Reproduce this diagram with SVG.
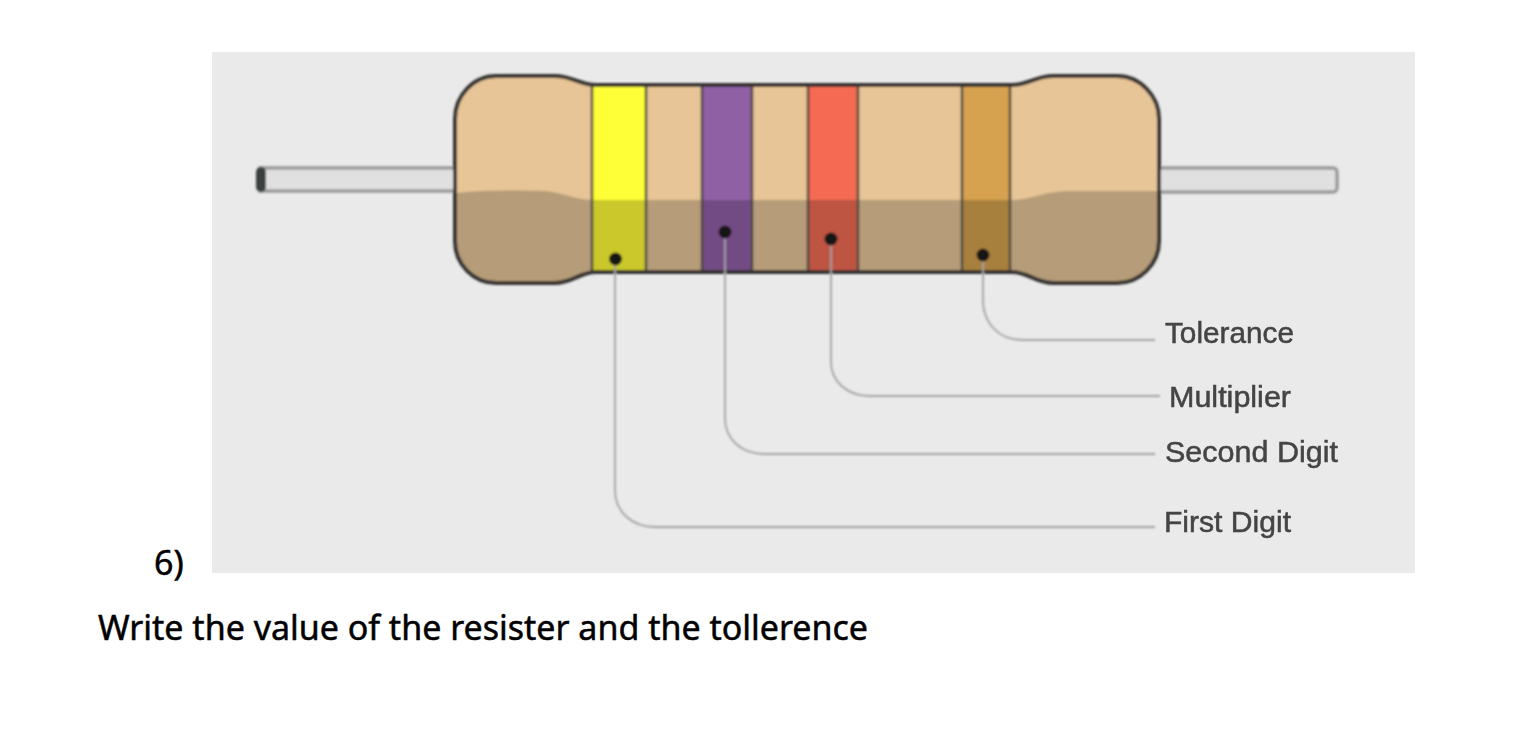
<svg xmlns="http://www.w3.org/2000/svg" width="1538" height="736" viewBox="0 0 1538 736">
<style>
.lead{fill:none;stroke:#a2a2a2;stroke-width:1.8}
.label{font-family:"Liberation Sans",Arial,sans-serif;font-size:29px;fill:#444;stroke:#444;stroke-width:.5}
.dot{fill:#141414}
.sep{fill:none;stroke:#4a4640;stroke-width:2.5}
.note{font-family:"Noto Sans",sans-serif;font-size:34px;fill:#000;stroke:#000;stroke-width:.5}
</style>
<defs>
<filter id="soft" x="-5%" y="-5%" width="110%" height="110%"><feGaussianBlur stdDeviation="0.8"/></filter>
<filter id="softer" x="-5%" y="-20%" width="110%" height="140%"><feGaussianBlur stdDeviation="0.7"/></filter>
<clipPath id="bodyClip"><path d="M496 76H555C572 76 580 85 596 85H1012C1028 85 1036 76 1053 76H1117C1140 76 1159 96 1159 119V241C1159 264 1140 283 1117 283H1053C1036 283 1028 272 1012 272H596C580 272 572 283 555 283H496C473 283 455 264 455 241V119C455 96 473 76 496 76Z"/></clipPath>
</defs>
<rect width="1538" height="736" fill="#fff"/>
<rect x="212" y="52" width="1203" height="521" fill="#eaeaea"/>
<g filter="url(#soft)">
<g id="lead-left">
<rect x="260" y="168" width="198" height="23" fill="#e0e0e0" stroke="#9a9a9a" stroke-width="3.5"/>
<rect x="256" y="167" width="10" height="25" rx="5" fill="#3c4040"/>
</g>
<g id="lead-right">
<rect x="1150" y="168" width="187" height="24" rx="4" fill="#e0e0e0" stroke="#9a9a9a" stroke-width="3.5"/>
</g>
<g id="resistor-body">
<g clip-path="url(#bodyClip)">
<rect x="450" y="70" width="715" height="220" fill="#e7c596"/>
<path d="M450 194C470 190 520 190 545 191C565 193 575 200 596 200H1012C1030 200 1045 191 1070 191H1165V290H450Z" fill="#b69c78"/>
<rect x="592" y="80" width="54" height="120" fill="#ffff38"/>
<rect x="592" y="200" width="54" height="80" fill="#cac82c"/>
<rect x="702" y="80" width="50" height="120" fill="#8f60a4"/>
<rect x="702" y="200" width="50" height="80" fill="#734c84"/>
<rect x="808" y="80" width="50" height="120" fill="#f46a52"/>
<rect x="808" y="200" width="50" height="80" fill="#bd5442"/>
<rect x="962" y="80" width="48" height="120" fill="#d6a250"/>
<rect x="962" y="200" width="48" height="80" fill="#a8803e"/>
<path class="sep" d="M592 85V272M646 85V272M702 85V272M752 85V272M808 85V272M858 85V272M962 85V272M1010 85V272"/>
</g>
<path d="M496 76H555C572 76 580 85 596 85H1012C1028 85 1036 76 1053 76H1117C1140 76 1159 96 1159 119V241C1159 264 1140 283 1117 283H1053C1036 283 1028 272 1012 272H596C580 272 572 283 555 283H496C473 283 455 264 455 241V119C455 96 473 76 496 76Z" fill="none" stroke="#353331" stroke-width="4"/>
</g>
<g id="connectors">
<path class="lead" d="M615 259V490C615 512 632 527 655 527H1155"/>
<path class="lead" d="M725 232V418C725 440 742 454 765 454H1155"/>
<path class="lead" d="M831 239V362C831 382 848 396 870 396H1160"/>
<path class="lead" d="M983 255V300C983 322 998 340 1022 340H1155"/>
</g>
<g id="dots">
<circle class="dot" cx="615.500" cy="259" r="6.500"/>
<circle class="dot" cx="725" cy="232" r="6.500"/>
<circle class="dot" cx="831" cy="239" r="6.500"/>
<circle class="dot" cx="983" cy="255" r="6.500"/>
</g>
</g>
<g id="labels" filter="url(#softer)">
<text class="label" x="1165" y="343" textLength="129" lengthAdjust="spacingAndGlyphs">Tolerance</text>
<text class="label" x="1169" y="407" textLength="122" lengthAdjust="spacingAndGlyphs">Multiplier</text>
<text class="label" x="1165" y="462" textLength="173" lengthAdjust="spacingAndGlyphs">Second Digit</text>
<text class="label" x="1164" y="532" textLength="127" lengthAdjust="spacingAndGlyphs">First Digit</text>
</g>
<text class="note" x="154" y="575">6)</text>
<text class="note" x="98" y="640" textLength="770" lengthAdjust="spacingAndGlyphs">Write the value of the resister and the tollerence</text>
</svg>
